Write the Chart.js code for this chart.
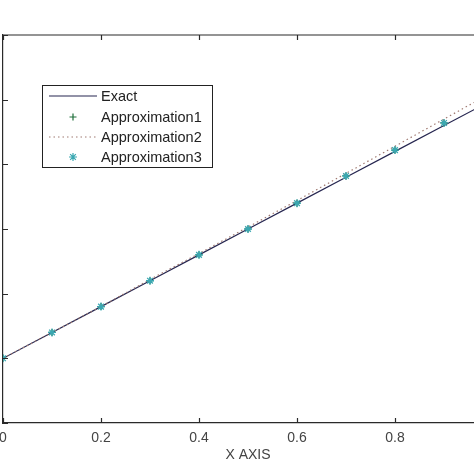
<!DOCTYPE html>
<html>
<head>
<meta charset="utf-8">
<script src="https://cdn.jsdelivr.net/npm/chart.js@4"></script>
<style>
  html, body { margin: 0; padding: 0; background: #fff; overflow: hidden; }
  body { width: 474px; height: 474px; position: relative; }
  #plot { position: absolute; left: -60px; top: 0; }
</style>
</head>
<body>
<canvas id="plot" width="620" height="474"></canvas>
<script>
// values
const xValues = [0, 0.1, 0.2, 0.3, 0.4, 0.5, 0.6, 0.7, 0.8, 0.9, 1.0];
const exact   = [1.00, 1.20, 1.40, 1.60, 1.80, 2.00, 2.20, 2.40, 2.60, 2.80, 3.00];
const approx1 = [1.00, 1.20, 1.40, 1.60, 1.80, 2.00, 2.20, 2.41, 2.61, 2.82, 3.02];
const approx2 = [1.00, 1.20, 1.40, 1.61, 1.81, 2.015, 2.22, 2.43, 2.64, 2.85, 3.06];
const approx3 = [1.00, 1.20, 1.40, 1.60, 1.80, 2.00, 2.20, 2.41, 2.61, 2.82, 3.02];
const xTicks = [0, 0.2, 0.4, 0.6, 0.8, 1];
const yTicks = [0.5, 1, 1.5, 2, 2.5, 3, 3.5];

const pts = ys => xValues.map((x, i) => ({ x: x, y: ys[i] }));
const FONT = "'Liberation Sans', Arial, sans-serif";
const AXIS = "#2a2a2a";

// MATLAB style box, inward ticks, legend inside the axes
const matlabBox = {
    id: "matlabBox",
    afterDraw(chart) {
        const ctx = chart.ctx;
        const a = chart.chartArea;
        const xs = chart.scales.x, ys = chart.scales.y;
        ctx.save();
        ctx.strokeStyle = AXIS;
        ctx.lineWidth = 1.2;
        ctx.beginPath();
        ctx.moveTo(a.left, a.top); ctx.lineTo(a.right, a.top);
        ctx.moveTo(a.right, a.top); ctx.lineTo(a.right, a.bottom);
        xTicks.forEach(v => {
            const px = Math.round(xs.getPixelForValue(v)) + 0.5;
            ctx.moveTo(px, a.bottom); ctx.lineTo(px, a.bottom - 5);
            ctx.moveTo(px, a.top); ctx.lineTo(px, a.top + 5);
        });
        yTicks.forEach(v => {
            const py = Math.round(ys.getPixelForValue(v)) + 0.5;
            ctx.moveTo(a.left, py); ctx.lineTo(a.left + 5, py);
            ctx.moveTo(a.right, py); ctx.lineTo(a.right - 5, py);
        });
        ctx.stroke();

        // legend
        const bx = a.left + 39, by = a.top + 50, bw = 170, bh = 82;
        ctx.fillStyle = "#fff";
        ctx.fillRect(bx, by, bw, bh);
        ctx.strokeStyle = "#222";
        ctx.lineWidth = 1;
        ctx.strokeRect(bx + 0.5, by + 0.5, bw, bh);
        ctx.font = "14.5px " + FONT;
        ctx.textBaseline = "middle";
        ctx.textAlign = "left";
        const rows = [11, 32, 52, 72];
        chart.data.datasets.forEach((ds, i) => {
            const cy = by + rows[i];
            const cx = bx + 31;
            ctx.save();
            ctx.strokeStyle = ds.borderColor;
            ctx.lineWidth = 1.2;
            ctx.beginPath();
            if (ds.showLine) {
                ctx.setLineDash(ds.borderDash || []);
                ctx.moveTo(bx + 7, cy); ctx.lineTo(bx + 55, cy);
            } else if (ds.pointStyle === "cross") {
                ctx.moveTo(cx - 3.5, cy); ctx.lineTo(cx + 3.5, cy);
                ctx.moveTo(cx, cy - 3.5); ctx.lineTo(cx, cy + 3.5);
            } else {
                const r = 4, d = r * Math.SQRT1_2;
                ctx.moveTo(cx - r, cy); ctx.lineTo(cx + r, cy);
                ctx.moveTo(cx, cy - r); ctx.lineTo(cx, cy + r);
                ctx.moveTo(cx - d, cy - d); ctx.lineTo(cx + d, cy + d);
                ctx.moveTo(cx - d, cy + d); ctx.lineTo(cx + d, cy - d);
            }
            ctx.stroke();
            ctx.restore();
            ctx.fillStyle = "#222";
            ctx.fillText(ds.label, bx + 59, cy + 1);
        });
        ctx.restore();
    }
};

new Chart(document.getElementById("plot"), {
    type: "scatter",
    data: {
        datasets: [{
            label: "Exact",
            data: pts(exact),
            showLine: true,
            borderColor: "#262650",
            borderWidth: 1.2,
            pointRadius: 0,
            order: 4
        }, {
            label: "Approximation1",
            data: pts(approx1),
            showLine: false,
            pointStyle: "cross",
            pointRadius: 3.5,
            borderColor: "#1f6f3a",
            pointBorderWidth: 1.2,
            order: 3
        }, {
            label: "Approximation2",
            data: pts(approx2),
            showLine: true,
            borderColor: "#a07a72",
            borderWidth: 1.2,
            borderDash: [1.5, 3],
            pointRadius: 0,
            order: 2
        }, {
            label: "Approximation3",
            data: pts(approx3),
            showLine: false,
            pointStyle: "star",
            pointRadius: 4,
            borderColor: "#3aa8b2",
            pointBorderWidth: 1.3,
            order: 1
        }]
    },
    options: {
        responsive: false,
        animation: false,
        events: [],
        layout: { padding: { top: 35, right: 67, bottom: 0, left: 0 } },
        scales: {
            x: {
                type: "linear",
                min: 0,
                max: 1,
                afterFit: s => { s.height = 51; },
                afterBuildTicks: s => { s.ticks = xTicks.map(v => ({ value: v })); },
                grid: { display: false, drawTicks: false },
                border: { display: true, color: AXIS, width: 1.2 },
                ticks: {
                    padding: 7,
                    color: "#444",
                    font: { family: FONT, size: 14 },
                    callback: v => String(v)
                },
                title: {
                    display: true,
                    text: "X AXIS",
                    color: "#444",
                    font: { family: FONT, size: 14 },
                    padding: { top: 0, bottom: 10 }
                }
            },
            y: {
                type: "linear",
                min: 0.5,
                max: 3.5,
                afterFit: s => { s.width = 63; },
                afterBuildTicks: s => { s.ticks = yTicks.map(v => ({ value: v })); },
                grid: { display: false, drawTicks: false },
                border: { display: true, color: AXIS, width: 1.2 },
                ticks: { display: false }
            }
        },
        plugins: {
            legend: { display: false },
            tooltip: { enabled: false }
        }
    },
    plugins: [matlabBox]
});
</script>
</body>
</html>
